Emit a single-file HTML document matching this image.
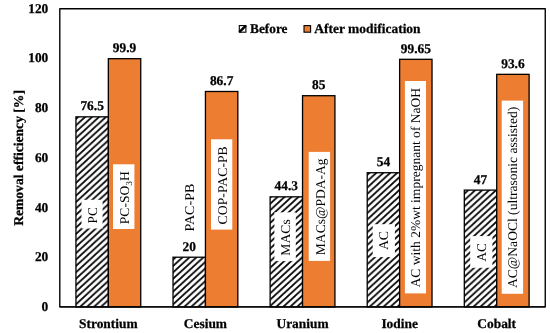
<!DOCTYPE html>
<html lang="en"><head><meta charset="utf-8"><title>Removal efficiency chart</title>
<style>html,body{margin:0;padding:0;background:#fff;}body{width:550px;height:333px;overflow:hidden;}svg{display:block;}text{text-rendering:geometricPrecision;font-family:"Liberation Serif","Times New Roman",serif;fill:#000;}.b{font-weight:bold;font-size:13.4px;stroke:#000;stroke-width:.25px;}.r{font-weight:normal;font-size:13.4px;}</style></head><body>
<svg width="550" height="333" viewBox="0 0 550 333">
<defs>
<pattern id="h0" patternUnits="userSpaceOnUse" width="6.95" height="6.39" x="6.44" y="3.97"><rect width="6.95" height="6.39" fill="#fff"/><path d="M-6.95 12.78L13.9 -6.39M-6.95 6.39L6.95 -6.39M0 12.78L13.9 0" stroke="#000" stroke-width="1.8" fill="none"/></pattern>
<pattern id="h1" patternUnits="userSpaceOnUse" width="6.95" height="6.39" x="6.23" y="4.07"><rect width="6.95" height="6.39" fill="#fff"/><path d="M-6.95 12.78L13.9 -6.39M-6.95 6.39L6.95 -6.39M0 12.78L13.9 0" stroke="#000" stroke-width="1.8" fill="none"/></pattern>
<pattern id="h2" patternUnits="userSpaceOnUse" width="6.95" height="6.39" x="6.03" y="5.74"><rect width="6.95" height="6.39" fill="#fff"/><path d="M-6.95 12.78L13.9 -6.39M-6.95 6.39L6.95 -6.39M0 12.78L13.9 0" stroke="#000" stroke-width="1.8" fill="none"/></pattern>
<pattern id="h3" patternUnits="userSpaceOnUse" width="6.95" height="6.39" x="5.82" y="2.31"><rect width="6.95" height="6.39" fill="#fff"/><path d="M-6.95 12.78L13.9 -6.39M-6.95 6.39L6.95 -6.39M0 12.78L13.9 0" stroke="#000" stroke-width="1.8" fill="none"/></pattern>
<pattern id="h4" patternUnits="userSpaceOnUse" width="6.95" height="6.39" x="5.61" y="2.13"><rect width="6.95" height="6.39" fill="#fff"/><path d="M-6.95 12.78L13.9 -6.39M-6.95 6.39L6.95 -6.39M0 12.78L13.9 0" stroke="#000" stroke-width="1.8" fill="none"/></pattern>
</defs>
<rect width="550" height="333" fill="#fff"/>
<rect x="59.80" y="8.75" width="485.45" height="298.15" fill="#fff" stroke="#000" stroke-width="1.38" stroke-linejoin="round"/>
<rect x="75.94" y="116.83" width="32.40" height="190.07" fill="url(#h0)" stroke="#000" stroke-width="1.3"/>
<rect x="108.34" y="58.69" width="32.40" height="248.21" fill="#ED7D31" stroke="#000" stroke-width="1.3"/>
<text class="b" text-anchor="middle" x="92.14" y="110.23">76.5</text>
<text class="b" text-anchor="middle" x="124.55" y="52.09">99.9</text>
<text class="b" text-anchor="middle" x="108.34" y="327.55">Strontium</text>
<rect x="173.03" y="257.21" width="32.40" height="49.69" fill="url(#h1)" stroke="#000" stroke-width="1.3"/>
<rect x="205.44" y="91.49" width="32.40" height="215.41" fill="#ED7D31" stroke="#000" stroke-width="1.3"/>
<text class="b" text-anchor="middle" x="189.24" y="250.61">20</text>
<text class="b" text-anchor="middle" x="221.63" y="84.89">86.7</text>
<text class="b" text-anchor="middle" x="205.44" y="327.55">Cesium</text>
<rect x="270.13" y="196.83" width="32.40" height="110.07" fill="url(#h2)" stroke="#000" stroke-width="1.3"/>
<rect x="302.53" y="95.71" width="32.40" height="211.19" fill="#ED7D31" stroke="#000" stroke-width="1.3"/>
<text class="b" text-anchor="middle" x="286.33" y="190.23">44.3</text>
<text class="b" text-anchor="middle" x="318.73" y="89.11">85</text>
<text class="b" text-anchor="middle" x="302.53" y="327.55">Uranium</text>
<rect x="367.22" y="172.73" width="32.40" height="134.17" fill="url(#h3)" stroke="#000" stroke-width="1.3"/>
<rect x="399.62" y="59.31" width="32.40" height="247.59" fill="#ED7D31" stroke="#000" stroke-width="1.3"/>
<text class="b" text-anchor="middle" x="383.42" y="166.13">54</text>
<text class="b" text-anchor="middle" x="415.81" y="52.71">99.65</text>
<text class="b" text-anchor="middle" x="399.62" y="327.55">Iodine</text>
<rect x="464.31" y="190.12" width="32.40" height="116.78" fill="url(#h4)" stroke="#000" stroke-width="1.3"/>
<rect x="496.71" y="74.34" width="32.40" height="232.56" fill="#ED7D31" stroke="#000" stroke-width="1.3"/>
<text class="b" text-anchor="middle" x="480.51" y="183.52">47</text>
<text class="b" text-anchor="middle" x="512.91" y="67.74">93.6</text>
<text class="b" text-anchor="middle" x="496.71" y="327.55">Cobalt</text>
<line x1="59.80" y1="306.90" x2="545.25" y2="306.90" stroke="#000" stroke-width="1.38"/>
<text class="b" text-anchor="end" x="48.3" y="310.90">0</text>
<text class="b" text-anchor="end" x="48.3" y="261.21">20</text>
<text class="b" text-anchor="end" x="48.3" y="211.52">40</text>
<text class="b" text-anchor="end" x="48.3" y="161.82">60</text>
<text class="b" text-anchor="end" x="48.3" y="112.13">80</text>
<text class="b" text-anchor="end" x="48.3" y="62.44">100</text>
<text class="b" text-anchor="end" x="48.3" y="12.75">120</text>
<text class="b" text-anchor="middle" transform="translate(22.5 157.95) rotate(-90)" textLength="135.8" lengthAdjust="spacingAndGlyphs">Removal efficiency [%]</text>
<rect x="239.3" y="25.6" width="6.6" height="6.6" fill="#fff" stroke="#000" stroke-width="1.1"/>
<path d="M239.3 32.2L245.9 25.6" stroke="#000" stroke-width="2.4"/>
<text class="b" x="250" y="33.4" textLength="37.5" lengthAdjust="spacingAndGlyphs">Before</text>
<rect x="304" y="25.6" width="6.6" height="6.6" fill="#ED7D31" stroke="#000" stroke-width="1.1"/>
<text class="b" x="314.3" y="33.4" textLength="106.3" lengthAdjust="spacingAndGlyphs">After modification</text>
<rect x="81.50" y="199.80" width="21.10" height="28.70" fill="#fff"/>
<text class="r" transform="translate(97.05 223.40) rotate(-90)" textLength="16.20" lengthAdjust="spacingAndGlyphs">PC</text>
<rect x="113.00" y="164.30" width="21.40" height="64.70" fill="#fff"/>
<text class="r" transform="translate(128.80 224.20) rotate(-90)" textLength="52.90" lengthAdjust="spacingAndGlyphs">PC-SO<tspan dy="3.4" font-size="9.2">3</tspan><tspan dy="-3.4">H</tspan></text>
<text class="r" transform="translate(193.80 231.60) rotate(-90)" textLength="48.00" lengthAdjust="spacingAndGlyphs">PAC-PB</text>
<rect x="211.00" y="139.30" width="21.30" height="90.30" fill="#fff"/>
<text class="r" transform="translate(226.80 224.40) rotate(-90)" textLength="78.20" lengthAdjust="spacingAndGlyphs">COP-PAC-PB</text>
<rect x="274.40" y="212.30" width="21.40" height="48.80" fill="#fff"/>
<text class="r" transform="translate(289.50 255.70) rotate(-90)" textLength="36.50" lengthAdjust="spacingAndGlyphs">MACs</text>
<rect x="308.70" y="151.90" width="21.40" height="109.00" fill="#fff"/>
<text class="r" transform="translate(324.70 255.20) rotate(-90)" textLength="96.80" lengthAdjust="spacingAndGlyphs">MACs@PDA-Ag</text>
<rect x="372.70" y="224.20" width="22.20" height="32.90" fill="#fff"/>
<text class="r" transform="translate(388.00 250.10) rotate(-90)" textLength="19.10" lengthAdjust="spacingAndGlyphs">AC</text>
<rect x="404.90" y="81.00" width="21.10" height="212.40" fill="#fff"/>
<text class="r" transform="translate(420.10 287.50) rotate(-90)" textLength="199.60" lengthAdjust="spacingAndGlyphs">AC with 2%wt impregnant of NaOH</text>
<rect x="470.20" y="236.10" width="22.20" height="31.70" fill="#fff"/>
<text class="r" transform="translate(486.30 261.60) rotate(-90)" textLength="18.40" lengthAdjust="spacingAndGlyphs">AC</text>
<rect x="501.70" y="100.60" width="21.40" height="193.20" fill="#fff"/>
<text class="r" transform="translate(516.80 288.00) rotate(-90)" textLength="181.20" lengthAdjust="spacingAndGlyphs">AC@NaOCl (ultrasonic assisted)</text>
</svg></body></html>
